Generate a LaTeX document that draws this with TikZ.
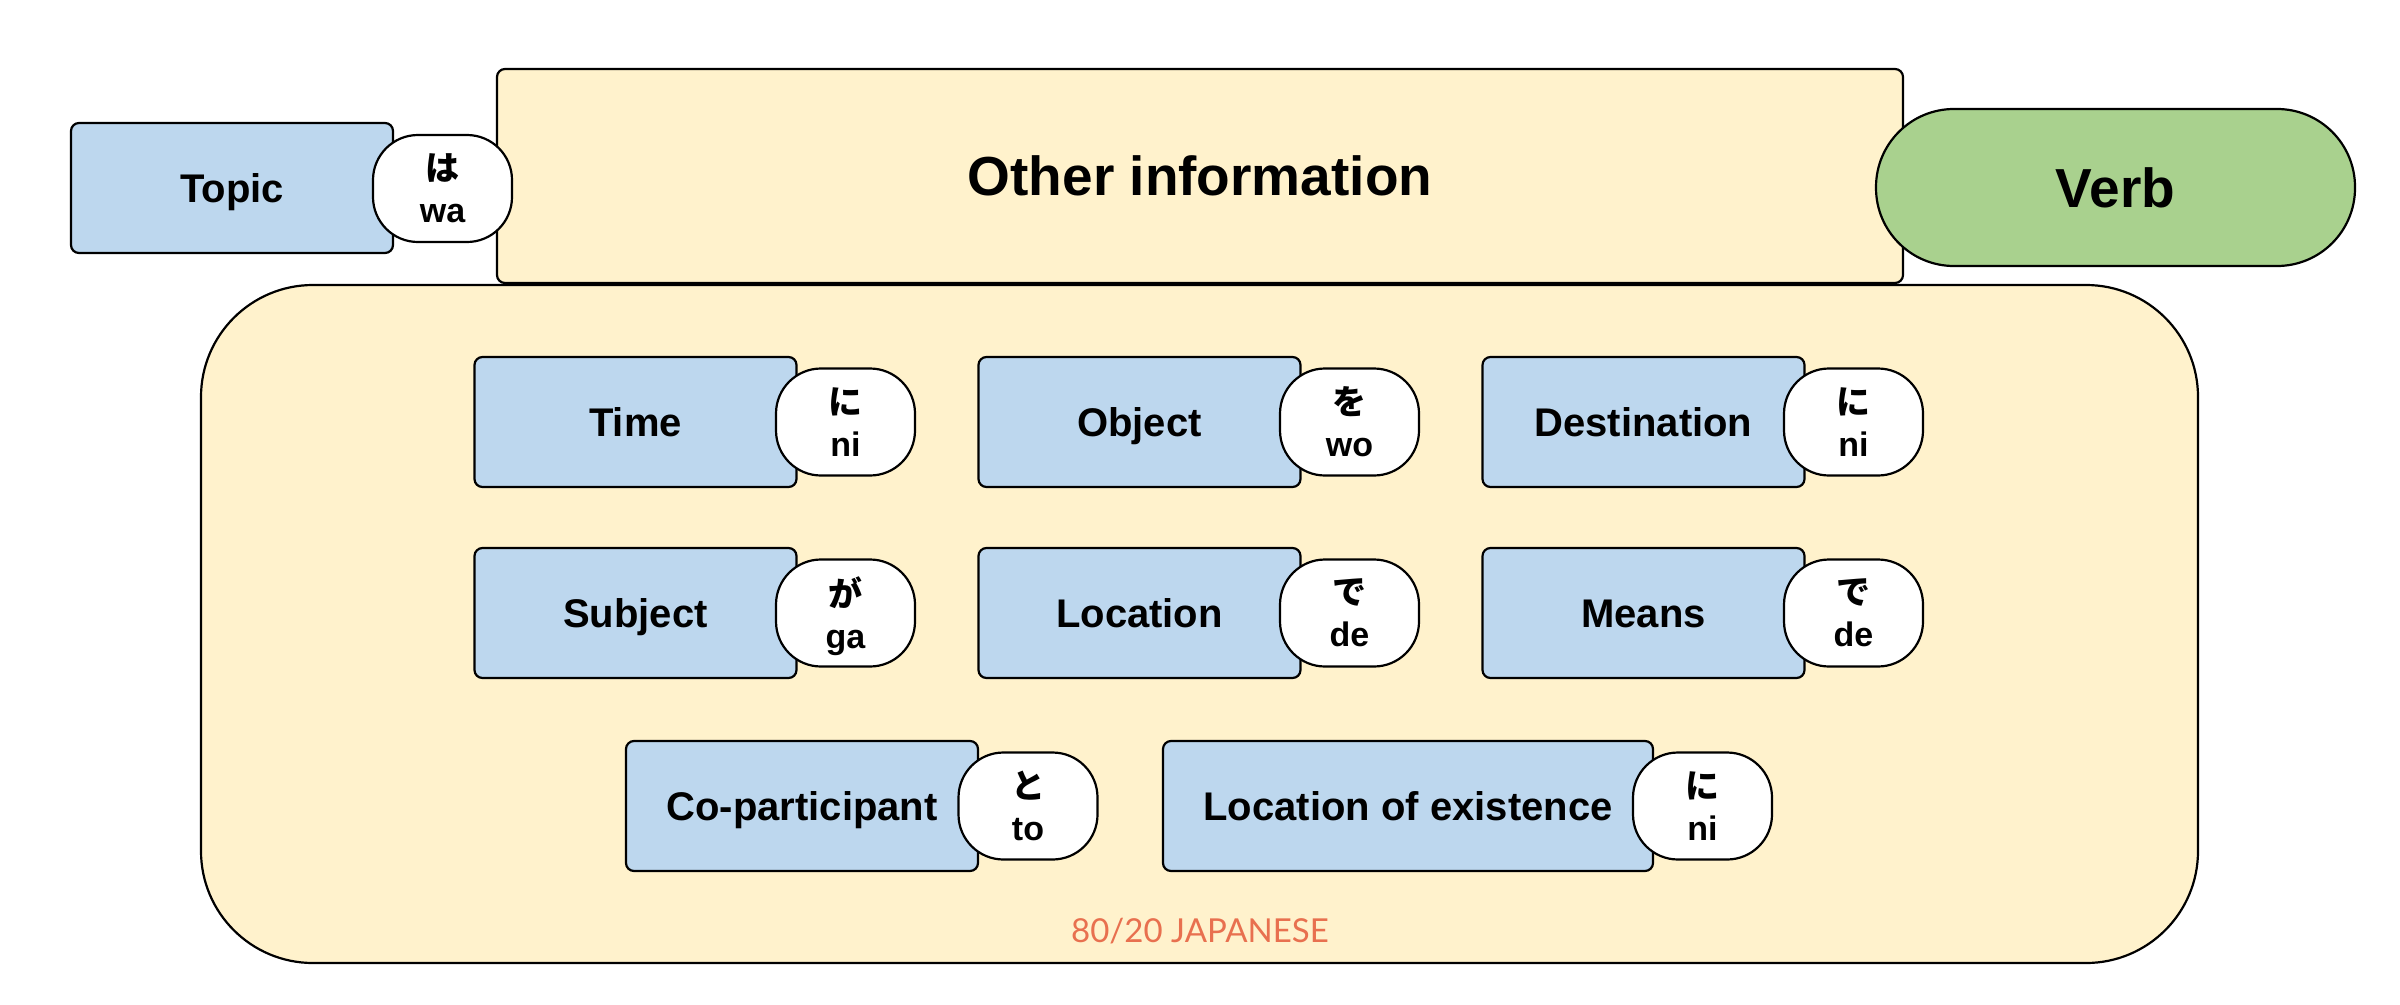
\documentclass[tikz,border=0pt]{standalone}
\usepackage{fontspec}
\setmainfont{Liberation Sans}
\newfontfamily\jpfont{Noto Sans CJK JP}
\newfontfamily\logofont{Lato}
\definecolor{blueF}{HTML}{BDD7EE}
\definecolor{creamF}{HTML}{FFF2CC}
\definecolor{greenF}{HTML}{A9D18E}
\definecolor{logoC}{HTML}{E8704F}
\tikzset{
  lbl/.style={draw=black, line width=2.2pt, fill=blueF, rounded corners=8pt,
    minimum height=130pt, inner sep=0pt, text height=28.6pt, text depth=0pt,
    font=\fontsize{40}{48}\selectfont\bfseries},
  part/.style={draw=black, line width=2.2pt, fill=white, rounded corners=45pt,
    minimum width=139pt, minimum height=107pt, inner sep=0pt, align=center,
    font=\fontsize{34}{42}\selectfont\bfseries},
}
\newcommand{\ptc}[2]{{\jpfont\bfseries #1}\\\smash{#2}\vphantom{n}}
\begin{document}
\begin{tikzpicture}[x=1pt,y=-1pt]
\useasboundingbox (0,0) rectangle (2400,1004);
\fill[white] (0,0) rectangle (2400,1004);
% container
\node[draw=black, line width=2.2pt, fill=creamF, rounded corners=112pt,
  minimum width=1997pt, minimum height=678pt, inner sep=0pt] (cont) at (1199.5,624) {};
\node[text=logoC, font=\logofont\fontsize{33}{36}\selectfont, inner sep=0pt] (logo) at (1200,931) {80/20 JAPANESE};
% top row
\node[draw=black, line width=2.2pt, fill=creamF, rounded corners=8pt,
  minimum width=1406pt, minimum height=214pt, inner sep=0pt,
  text height=39.4pt, text depth=0pt,
  font=\fontsize{55}{60}\selectfont\bfseries] (other) at (1200,176) {Other information};
\node[lbl, minimum width=322pt] (topic) at (232,188) {Topic};
\node[part] (wa) at (442.5,188.5) {\ptc{は}{wa}};
\node[draw=black, line width=2.2pt, fill=greenF, rounded corners=78pt,
  minimum width=479pt, minimum height=157pt, inner sep=0pt,
  text height=39.4pt, text depth=0pt,
  font=\fontsize{55}{60}\selectfont\bfseries] (verb) at (2115.5,187.5) {Verb};
% row 1
\node[lbl, minimum width=322pt] (time) at (635.5,422) {Time};
\node[part] (ni1) at (845.5,422) {\ptc{に}{ni}};
\node[lbl, minimum width=322pt] (object) at (1139.5,422) {Object};
\node[part] (wo) at (1349.5,422) {\ptc{を}{wo}};
\node[lbl, minimum width=322pt] (dest) at (1643.5,422) {Destination};
\node[part] (ni2) at (1853.5,422) {\ptc{に}{ni}};
% row 2
\node[lbl, minimum width=322pt] (subject) at (635.5,613) {Subject};
\node[part] (ga) at (845.5,613) {\ptc{が}{ga}};
\node[lbl, minimum width=322pt] (location) at (1139.5,613) {Location};
\node[part] (de1) at (1349.5,613) {\ptc{で}{de}};
\node[lbl, minimum width=322pt] (means) at (1643.5,613) {Means};
\node[part] (de2) at (1853.5,613) {\ptc{で}{de}};
% row 3
\node[lbl, minimum width=352pt] (copart) at (802,806) {Co-participant};
\node[part] (to) at (1028,806) {\ptc{と}{to}};
\node[lbl, minimum width=490pt] (loe) at (1408,806) {Location of existence};
\node[part] (ni3) at (1702.5,806) {\ptc{に}{ni}};
\end{tikzpicture}
\end{document}
